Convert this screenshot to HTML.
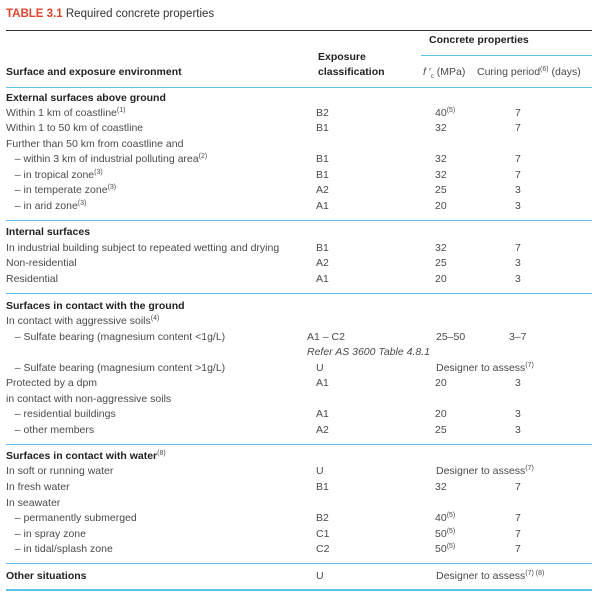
<!DOCTYPE html>
<html><head><meta charset="utf-8"><style>
body{margin:0;width:600px;height:597px;background:#fff;position:relative;overflow:hidden;font-family:"Liberation Sans",Arial,sans-serif;font-size:10.5px;color:#4a4a4a}
div.t{position:absolute;white-space:nowrap;line-height:14px}
.b{font-weight:bold;color:#222}
sup{font-size:7px;vertical-align:4px;line-height:0}
.l{position:absolute;left:6px;width:586px;height:1px;background:#5bc4e8}
</style></head><body>
<div class="t" style="left:6px;top:7px;font-size:11.5px;color:#333"><span style="color:#e2452b;font-weight:bold">TABLE 3.1</span> Required concrete properties</div>
<div style="position:absolute;left:6px;top:30px;width:586px;height:1px;background:#333"></div>
<div class="t b" style="left:429px;top:33px">Concrete properties</div>
<div style="position:absolute;left:421px;top:55px;width:171px;height:1px;background:#5bc4e8"></div>
<div class="t b" style="left:318px;top:50px">Exposure</div>
<div class="t b" style="left:6px;top:65px">Surface and exposure environment</div>
<div class="t b" style="left:318px;top:65px">classification</div>
<div class="t" style="left:423px;top:65px"><i>f</i> ′<sub style="font-size:6px">c</sub> (MPa)</div>
<div class="t" style="left:477px;top:65px">Curing period<sup>(6)</sup> (days)</div>
<div class="l" style="top:87px"></div>
<div id="rows"></div>
<div class="l" style="top:220px"></div>
<div class="l" style="top:293px"></div>
<div class="l" style="top:444px"></div>
<div class="l" style="top:563px"></div>
<div class="l" style="top:589px;height:2px"></div>
<script>
var R=[
[98,'<b class="b">External surfaces above ground</b>'],
[113,'Within 1 km of coastline<sup>(1)</sup>','B2','40<sup>(5)</sup>','7'],
[128,'Within 1 to 50 km of coastline','B1','32','7'],
[144,'Further than 50 km from coastline and'],
[159,'&nbsp;&nbsp;&nbsp;– within 3 km of industrial polluting area<sup>(2)</sup>','B1','32','7'],
[175,'&nbsp;&nbsp;&nbsp;– in tropical zone<sup>(3)</sup>','B1','32','7'],
[190,'&nbsp;&nbsp;&nbsp;– in temperate zone<sup>(3)</sup>','A2','25','3'],
[206,'&nbsp;&nbsp;&nbsp;– in arid zone<sup>(3)</sup>','A1','20','3'],
[232,'<b class="b">Internal surfaces</b>'],
[248,'In industrial building subject to repeated wetting and drying','B1','32','7'],
[263,'Non-residential','A2','25','3'],
[279,'Residential','A1','20','3'],
[306,'<b class="b">Surfaces in contact with the ground</b>'],
[321,'In contact with aggressive soils<sup>(4)</sup>'],
[337,'&nbsp;&nbsp;&nbsp;– Sulfate bearing (magnesium content &lt;1g/L)'],
[368,'&nbsp;&nbsp;&nbsp;– Sulfate bearing (magnesium content &gt;1g/L)','U'],
[383,'Protected by a dpm','A1','20','3'],
[399,'in contact with non-aggressive soils'],
[414,'&nbsp;&nbsp;&nbsp;– residential buildings','A1','20','3'],
[430,'&nbsp;&nbsp;&nbsp;– other members','A2','25','3'],
[456,'<b class="b">Surfaces in contact with water</b><sup>(8)</sup>'],
[471,'In soft or running water','U'],
[487,'In fresh water','B1','32','7'],
[503,'In seawater'],
[518,'&nbsp;&nbsp;&nbsp;– permanently submerged','B2','40<sup>(5)</sup>','7'],
[534,'&nbsp;&nbsp;&nbsp;– in spray zone','C1','50<sup>(5)</sup>','7'],
[549,'&nbsp;&nbsp;&nbsp;– in tidal/splash zone','C2','50<sup>(5)</sup>','7'],
[576,'<b class="b">Other situations</b>','U']
];
var h='';
function t(x,y,s,st){h+='<div class="t" style="left:'+x+'px;top:'+(y-7)+'px;'+(st||'')+'">'+s+'</div>';}
R.forEach(function(r){t(6,r[0],r[1]);if(r[2])t(316,r[0],r[2]);if(r[3])t(435,r[0],r[3]);if(r[4])t(515,r[0],r[4]);});
t(307,337,'A1 – C2');t(436,337,'25–50');t(509,337,'3–7');
t(307,352,'Refer AS 3600 Table 4.8.1','font-style:italic');
t(436,368,'Designer to assess<sup>(7)</sup>');
t(436,471,'Designer to assess<sup>(7)</sup>');
t(436,576,'Designer to assess<sup>(7) (8)</sup>');
document.getElementById('rows').innerHTML=h;
</script>
</body></html>
